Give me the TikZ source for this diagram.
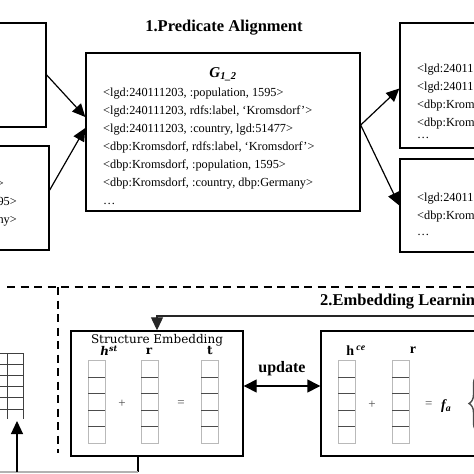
\documentclass[tikz,border=0pt]{standalone}
\usepackage{fontspec}
\setmainfont{Liberation Serif}
\newfontfamily\sefont{DejaVu Serif}
\usetikzlibrary{arrows.meta, positioning, calc, decorations.pathreplacing}

\begin{document}
\begin{tikzpicture}[x=1pt, y=-1pt,
    kgbox/.style={rectangle, draw, line width=1.4pt, inner sep=0pt},
    triple/.style={font=\fontsize{12.3}{14}\selectfont, inner sep=0pt},
    steptitle/.style={font=\fontsize{16.5}{20}\selectfont\bfseries, inner sep=0pt},
    arr/.style={-{Triangle[length=13pt, width=12pt]}, line width=1.2pt},
    dashedline/.style={line width=2pt, dash pattern=on 8pt off 5.5pt},
    selabel/.style={font=\sefont\fontsize{12}{14}\selectfont\bfseries, inner sep=0pt},
    celabel/.style={font=\fontsize{14}{16}\selectfont\bfseries, inner sep=0pt},
    op/.style={font=\fontsize{13}{15}\selectfont, text=black!70, inner sep=0pt},
]
\clip (0,0) rectangle (474,474);
\fill[white] (0,0) rectangle (474,474);

% 1. predicate alignment
\node[steptitle] (title1) at (224,28) {1.Predicate Alignment};
\node[kgbox, minimum width=106pt, minimum height=104pt] (kg1) at (-7,75) {};
\node[kgbox, minimum width=109pt, minimum height=104pt] (kg2) at (-5.5,198) {};
\foreach \t/\ex/\i in {{<dbp:Kromsdorf, rdfs:label, ‘Kromsdorf’>}/4/1,
                        {<dbp:Kromsdorf, :population, 1595>}/17/2,
                        {<dbp:Kromsdorf, :country, dbp:Germany>}/17/3} {
    \node[triple, anchor=base east] (kgl\i) at (\ex,{169+18*\i}) {\t};
}
\node[kgbox, minimum width=274pt, minimum height=158pt] (g12) at (223,132) {};
\node[font=\fontsize{15}{18}\selectfont\bfseries\itshape, inner sep=0pt] (g12title) at (223,74) {G\textsubscript{1\_2}};
\foreach \t [count=\i] in {{<lgd:240111203, :population, 1595>},
                           {<lgd:240111203, rdfs:label, ‘Kromsdorf’>},
                           {<lgd:240111203, :country, lgd:51477>},
                           {<dbp:Kromsdorf, rdfs:label, ‘Kromsdorf’>},
                           {<dbp:Kromsdorf, :population, 1595>},
                           {<dbp:Kromsdorf, :country, dbp:Germany>},
                           {…}} {
    \node[triple, anchor=base west] (g12l\i) at (103,{78+18*\i}) {\t};
}
\node[kgbox, minimum width=140pt, minimum height=125pt] (rtop) at (470,85.5) {};
\foreach \t/\by/\i in {{<lgd:240111203, :population, 1595>}/72/1,
                       {<lgd:240111203, :country, lgd:51477>}/90/2,
                       {<dbp:Kromsdorf, :population, 1595>}/108/3,
                       {<dbp:Kromsdorf, :country, dbp:Germany>}/126/4,
                       {…}/138/5} {
    \node[triple, anchor=base west] (rtl\i) at (417,\by) {\t};
}
\node[kgbox, minimum width=140pt, minimum height=93pt] (rbot) at (470,205.5) {};
\foreach \t/\by/\i in {{<lgd:240111203, rdfs:label, ‘Kromsdorf’>}/201/1,
                       {<dbp:Kromsdorf, rdfs:label, ‘Kromsdorf’>}/219/2,
                       {…}/235/3} {
    \node[triple, anchor=base west] (rbl\i) at (417,\by) {\t};
}
\draw[arr] (kg1.east) -- ([yshift=15pt]g12.west);
\draw[arr] ([yshift=8pt]kg2.east) -- ([yshift=4pt]g12.west);
\draw[arr] ([yshift=7pt]g12.east) -- ([yshift=-3pt]rtop.west);
\draw[arr] ([yshift=7pt]g12.east) -- (rbot.west);

% 2. embedding learning
\draw[dashedline] (7,287) -- (480,287);
\draw[dashedline] (58,287) -- (58,453);
\node[steptitle, anchor=base west] (title2) at (320,305) {2.Embedding Learning};
\node[kgbox, minimum width=172pt, minimum height=125pt] (se) at (157,393.5) {};
\node[font=\sefont\fontsize{12}{14}\selectfont, inner sep=0pt] (setitle) at (157,340) {Structure Embedding};
\node[kgbox, minimum width=219pt, minimum height=125pt] (ce) at (430.5,393.5) {};
\coordinate (fbend) at (480,316);
\draw[arr, black!85] (fbend) -| (se.north);
\draw[line width=1.4pt, {Triangle[length=13pt, width=13pt]}-{Triangle[length=13pt, width=13pt]}]
    ([yshift=7.5pt]se.east) -- ([yshift=7.5pt]ce.west)
    node[midway, above=9pt, font=\fontsize{16}{18}\selectfont\bfseries, inner sep=0pt] (upd) {update};

% vectors
\foreach \cx in {88,141,201,338,392} {
    \draw[gray!55, line width=0.9pt] (\cx,360.5) rectangle ++(17,83);
    \foreach \k in {1,...,4}
        \draw[black!70, line width=0.9pt] (\cx,{360.5+16.6*\k}) -- ++(17,0);
}
\node[selabel] (hst) at (109,351) {\itshape h\textsuperscript{st}};
\node[selabel] (rst) at (149,351) {r};
\node[selabel] (tst) at (210,350) {t};
\node[op] (plus1) at (122,404) {+};
\node[op] (eq1) at (181,404) {=};
\node[celabel] (hce) at (356,351) {h\,\textsuperscript{\itshape ce}};
\node[celabel] (rce) at (413,350) {r};
\node[op] (plus2) at (372,405) {+};
\node[op, anchor=west] (eq2) at (425,405) {=};
\node[celabel, anchor=west] (fa) at (441,406) {\itshape f\textsubscript{a}};
\draw[decorate, decoration={brace, amplitude=9pt}, gray!60!black, line width=1.4pt] (478,432) -- (478,375);

% grid and bottom link
\foreach \gy in {353,364.2,375.4,386.6,397.8,409}
    \draw[black!75, line width=0.9pt] (-9,\gy) -- (23,\gy);
\foreach \gx in {-9,7,23}
    \draw[black!75, line width=0.9pt] (\gx,353) -- (\gx,419);
\coordinate (gridbot) at (17,421);
\coordinate (btmleft) at (17,472);
\coordinate (btmright) at ([xshift=-19pt]se.south |- btmleft);
\draw[line width=1.2pt] ([xshift=-19pt]se.south) -- (btmright);
\draw[gray!60, line width=2pt] (btmright) -- (-10,472);
\draw[arr] (btmleft) -- (gridbot);
\end{tikzpicture}
\end{document}
